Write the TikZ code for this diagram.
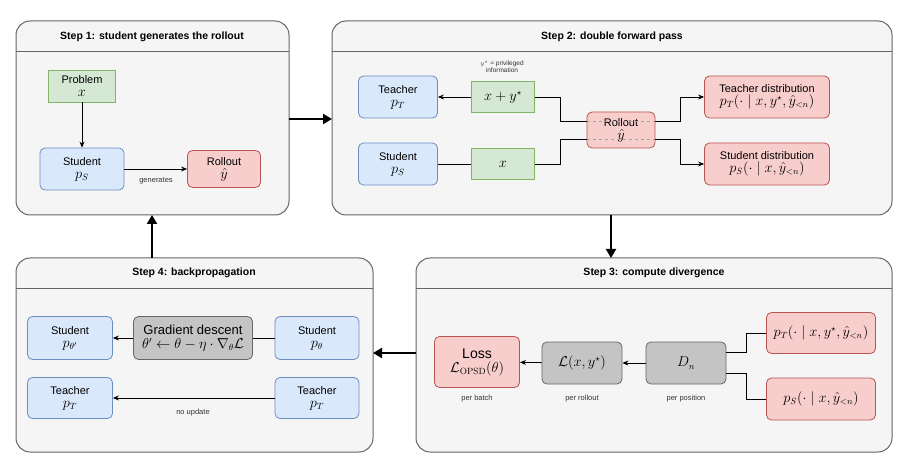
\documentclass[tikz,border=0pt]{standalone}
\usepackage[no-math]{fontspec}
\setmainfont{Liberation Sans}
\usetikzlibrary{arrows.meta}
\newcommand{\mth}[1]{{\fontsize{13.5}{15}\selectfont$#1$}}
\definecolor{bF}{HTML}{DAE8FC}\definecolor{bS}{HTML}{6C8EBF}
\definecolor{gF}{HTML}{D5E8D4}\definecolor{gS}{HTML}{82B366}
\definecolor{rF}{HTML}{F8CECC}\definecolor{rS}{HTML}{B85450}
\definecolor{kF}{HTML}{C4C4C4}\definecolor{kS}{HTML}{666666}
\definecolor{pF}{HTML}{F5F5F5}
\begin{document}
\begin{tikzpicture}[x=1pt,y=-1pt,
 every node/.style={font=\fontsize{11}{13}\selectfont, align=center, inner sep=0pt},
 box/.style={draw, rounded corners=5pt, line width=0.8pt},
 blue/.style={box, fill=bF, draw=bS, minimum width=84pt, minimum height=42pt},
 green/.style={draw=gS, fill=gF, line width=0.8pt, minimum width=63pt, minimum height=31pt},
 red/.style={box, fill=rF, draw=rS},
 gray/.style={box, fill=kF, draw=kS, minimum height=42pt},
 panel/.style={draw=kS, fill=pF, rounded corners=14pt, line width=1pt},
 ttl/.style={font=\fontsize{10.5}{12}\selectfont\bfseries},
 small/.style={font=\fontsize{7.5}{8}\selectfont, text=black!80},
 arr/.style={-{Stealth[length=6pt,width=5pt]}, line width=0.8pt},
 big/.style={-{Triangle[length=9pt,width=10pt]}, line width=2.5pt}]
\useasboundingbox (0,0) rectangle (906,468);
% panels
\draw[panel] (16,21) rectangle (289,215); \draw[kS,line width=1pt] (16,52)--(289,52);
\draw[panel] (332,21) rectangle (892,215); \draw[kS,line width=1pt] (332,52)--(892,52);
\draw[panel] (416,258) rectangle (892,452); \draw[kS,line width=1pt] (416,288)--(892,288);
\draw[panel] (16,258) rectangle (373,452); \draw[kS,line width=1pt] (16,288)--(373,288);
\node[ttl] (t1) at (152,37) {Step 1: student generates the rollout};
\node[ttl] (t2) at (612,37) {Step 2: double forward pass};
\node[ttl] (t3) at (654,273) {Step 3: compute divergence};
\node[ttl] (t4) at (194,273) {Step 4: backpropagation};
% step 1
\node[green, minimum width=67pt, minimum height=22pt+10pt] (prob) at (82,86) {Problem\\\mth{x}};
\node[blue] (s1) at (82,169) {Student\\\mth{p_S}};
\node[red, minimum width=73pt, minimum height=37pt] (r1) at (224,169) {Rollout\\\mth{\hat y}};
\draw[arr] (prob) -- (s1);
\draw[arr] (s1) -- (r1);
\node[small] (gen) at (156,181) {generates};
% step 2
\node[blue, minimum width=79pt] (tch) at (398,97) {Teacher\\\mth{p_T}};
\node[green] (xy) at (503,97) {\mth{x+y^\star}};
\node[blue, minimum width=79pt] (stu) at (398,164) {Student\\\mth{p_S}};
\node[green] (xx) at (503,164) {\mth{x}};
\node[red, minimum width=68pt, minimum height=36pt] (ro) at (621,130) {Rollout\\\mth{\hat y}};
\node[red, minimum width=125pt, minimum height=42pt] (td) at (767,97) {Teacher distribution\\\mth{p_T(\cdot\mid x,y^\star,\hat y_{<n})}};
\node[red, minimum width=125pt, minimum height=42pt] (sd) at (767,164) {Student distribution\\\mth{p_S(\cdot\mid x,\hat y_{<n})}};
\node[small, font=\fontsize{6.5}{7}\selectfont] (priv) at (502,67) {$y^\star$ = privileged\\information};
\draw[arr] (xy) -- (tch);
\draw[line width=0.8pt] (stu) -- (xx);
\coordinate (a1) at (587,121); \coordinate (a2) at (655,121);
\coordinate (b1) at (587,139); \coordinate (b2) at (655,139);
\draw[line width=0.8pt] (xy.east) -| (560,121) -- (a1);
\draw[line width=0.8pt] (xx.east) -| (560,139) -- (b1);
\draw[dashed, gray!70, line width=0.8pt] (a1) -- (a2) (b1) -- (b2);
\draw[arr] (a2) -- (680,121) |- (td.west);
\draw[arr] (b2) -- (680,139) |- (sd.west);
% step 3
\node[red, minimum width=85pt, minimum height=51pt, font=\fontsize{14}{15}\selectfont] (loss) at (477,362) {Loss\\[-1pt]\mth{\mathcal{L}_{\mathrm{OPSD}}(\theta)}};
\node[gray, minimum width=80pt] (lx) at (582,363) {\mth{\mathcal{L}(x,y^\star)}};
\node[gray, minimum width=80pt] (dn) at (686,363) {\mth{D_n}};
\node[red, minimum width=109pt, minimum height=41pt] (pt3) at (821,333) {\mth{p_T(\cdot\mid x,y^\star,\hat y_{<n})}};
\node[red, minimum width=109pt, minimum height=42pt] (ps3) at (821,399) {\mth{p_S(\cdot\mid x,\hat y_{<n})}};
\draw[arr] (dn) -- (lx);
\draw[arr] (lx) -- (loss);
\draw[line width=0.8pt] (dn.east |- 0,352) -- (746,352) |- (pt3.west);
\draw[line width=0.8pt] (dn.east |- 0,373) -- (746,373) |- (ps3.west);
\node[small] (l1) at (477,399) {per batch};
\node[small] (l2) at (582,399) {per rollout};
\node[small] (l3) at (686,399) {per position};
% step 4
\node[blue, minimum width=85pt, minimum height=43pt] (sn) at (70,338) {Student\\\mth{p_{\theta'}}};
\node[gray, minimum width=119pt, minimum height=43pt, font=\fontsize{13}{14}\selectfont] (gd) at (193,338) {Gradient descent\\\mth{\theta'\leftarrow\theta-\eta\cdot\nabla_\theta\mathcal{L}}};
\node[blue, minimum width=84pt, minimum height=43pt] (so) at (317,338) {Student\\\mth{p_\theta}};
\node[blue, minimum width=85pt, minimum height=41pt] (tn) at (70,398) {Teacher\\\mth{p_T}};
\node[blue, minimum width=84pt, minimum height=41pt] (to) at (317,398) {Teacher\\\mth{p_T}};
\draw[line width=0.8pt] (so) -- (gd);
\draw[arr] (gd) -- (sn);
\draw[arr] (to) -- (tn);
\node[small] (nu) at (193,413) {no update};
% big arrows
\coordinate (c1) at (289,119); \coordinate (c2) at (332,119);
\draw[big] (c1) -- (c2);
\coordinate (c3) at (611,215); \coordinate (c4) at (611,258);
\draw[big] (c3) -- (c4);
\coordinate (c5) at (416,353); \coordinate (c6) at (373,353);
\draw[big] (c5) -- (c6);
\coordinate (c7) at (152,258); \coordinate (c8) at (152,215);
\draw[big] (c7) -- (c8);
\end{tikzpicture}
\end{document}
